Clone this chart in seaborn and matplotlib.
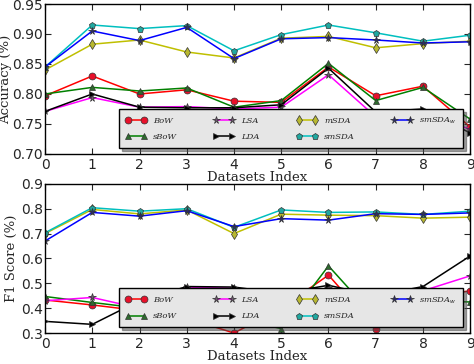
import numpy as np
import matplotlib
matplotlib.use("Agg")
import matplotlib.pyplot as plt
import seaborn as sns

# dataset index
idx = list(range(10))

# accuracy values (top panel)
acc_bow = [0.797, 0.830, 0.800, 0.807, 0.788, 0.786, 0.845, 0.797, 0.813, 0.745]
acc_sbow = [0.800, 0.811, 0.805, 0.810, 0.778, 0.789, 0.851, 0.789, 0.811, 0.758]
acc_lsa = [0.771, 0.794, 0.778, 0.779, 0.775, 0.778, 0.832, 0.762, 0.770, 0.741]
acc_lda = [0.771, 0.800, 0.778, 0.777, 0.777, 0.782, 0.843, 0.770, 0.775, 0.735]
acc_msda = [0.840, 0.883, 0.890, 0.870, 0.860, 0.893, 0.896, 0.877, 0.884, 0.888]
acc_smsda = [0.845, 0.915, 0.909, 0.914, 0.872, 0.899, 0.915, 0.902, 0.888, 0.898]
acc_smsdaw = [0.845, 0.905, 0.889, 0.911, 0.859, 0.892, 0.894, 0.890, 0.885, 0.887]

# F1 values (bottom panel)
f1_bow = [0.433, 0.413, 0.390, 0.360, 0.300, 0.400, 0.533, 0.318, 0.440, 0.470]
f1_sbow = [0.447, 0.423, 0.400, 0.380, 0.360, 0.318, 0.570, 0.360, 0.430, 0.425]
f1_lsa = [0.430, 0.443, 0.400, 0.485, 0.480, 0.440, 0.480, 0.440, 0.470, 0.530]
f1_lda = [0.347, 0.335, 0.430, 0.487, 0.485, 0.460, 0.492, 0.450, 0.487, 0.610]
f1_msda = [0.700, 0.797, 0.779, 0.795, 0.700, 0.778, 0.774, 0.772, 0.762, 0.766]
f1_smsda = [0.703, 0.804, 0.790, 0.800, 0.725, 0.795, 0.785, 0.787, 0.777, 0.790]
f1_smsdaw = [0.670, 0.785, 0.770, 0.792, 0.728, 0.760, 0.754, 0.780, 0.777, 0.783]

labels = ["BoW", "sBoW", "LSA", "LDA", "mSDA", "smSDA", "smSDA$_w$"]
line_colors = ["#ff0000", "#008000", "#ff00ff", "#000000", "#bfbf00", "#00bfbf", "#0000ff"]
face_colors = ["#e8102a", "#2e6b2e", "#6e5a70", "#000000", "#b8b830", "#20a8a0", "#2a2a6a"]
markers = ["o", "^", "*", ">", "d", "p", "*"]
sizes = [5, 5, 5.5, 5, 5, 5, 5.5]

sns.set_style("ticks")
plt.rcParams["xtick.direction"] = "in"
plt.rcParams["ytick.direction"] = "in"

fig = plt.figure(figsize=(4.74, 3.64), dpi=100)
ax1 = fig.add_axes([0.095, 0.577, 0.897, 0.412])
ax2 = fig.add_axes([0.095, 0.085, 0.897, 0.410])


def draw(ax, series):
    for vals, lab, lc, fc, mk, ms in zip(series, labels, line_colors, face_colors, markers, sizes):
        sns.lineplot(x=idx, y=vals, ax=ax, color=lc, marker=mk, markersize=ms,
                     markerfacecolor=fc, markeredgecolor="#333333", markeredgewidth=0.5,
                     linewidth=1.1, label=lab)
    ax.set_xlim(0, 9)
    ax.set_xticks(idx)
    ax.set_xlabel("Datasets Index", family="DejaVu Serif", fontsize=9.5, labelpad=-1)
    ax.tick_params(labelsize=10, length=4, width=0.8, top=True, right=True, pad=1.5)
    ax.tick_params(axis="x", pad=3)
    for s in ax.spines.values():
        s.set_linewidth(1.0)
        s.set_color("black")
    leg = ax.legend(ncol=4, numpoints=2, loc="lower left", bbox_to_anchor=(0.174, 0.04, 0.81, 0.27),
                    mode="expand", prop={"family": "DejaVu Serif", "style": "italic", "size": 6},
                    fancybox=False, shadow=True, frameon=True, handlelength=2.5,
                    borderaxespad=0, columnspacing=1.0, labelspacing=1.0, borderpad=0.8)
    leg.get_frame().set_facecolor("#e6e6e6")
    leg.get_frame().set_edgecolor("black")
    leg.get_frame().set_alpha(1)


draw(ax1, [acc_bow, acc_sbow, acc_lsa, acc_lda, acc_msda, acc_smsda, acc_smsdaw])
ax1.set_ylim(0.70, 0.95)
ax1.set_yticks(np.arange(0.70, 0.951, 0.05))
ax1.yaxis.set_major_formatter(matplotlib.ticker.FormatStrFormatter("%.2f"))
ax1.set_ylabel("Accuracy (%)", family="DejaVu Serif", fontsize=9.5, labelpad=0)

draw(ax2, [f1_bow, f1_sbow, f1_lsa, f1_lda, f1_msda, f1_smsda, f1_smsdaw])
ax2.set_ylim(0.3, 0.9)
ax2.set_yticks(np.arange(0.3, 0.91, 0.1))
ax2.yaxis.set_major_formatter(matplotlib.ticker.FormatStrFormatter("%.1f"))
ax2.set_ylabel("F1 Score (%)", family="DejaVu Serif", fontsize=9.5, labelpad=2)

fig.savefig("out.png", dpi=100)
